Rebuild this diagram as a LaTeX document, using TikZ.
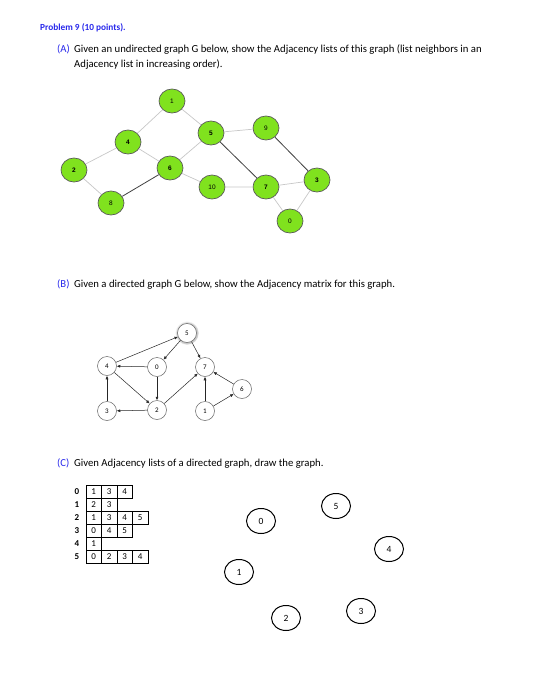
\documentclass[tikz,border=0pt]{standalone}
\usepackage{fontspec}
\setmainfont{Carlito}
\newfontfamily\labfont{Liberation Sans}
\usetikzlibrary{positioning,shapes.geometric,arrows.meta,shadows}
\definecolor{probblue}{RGB}{40,40,235}
\definecolor{nodegreen}{RGB}{128,226,30}

\begin{document}
\begin{tikzpicture}[
  x=1pt, y=-1pt,
  txt/.style={anchor=base west, inner sep=0pt, font=\fontsize{10.7}{12}\selectfont},
  gnode/.style={ellipse, draw=black!65, fill=nodegreen, line width=0.7pt, minimum width=26pt, minimum height=24pt, inner sep=0pt, font=\labfont\fontsize{6.5}{7}\selectfont},
  light/.style={draw=black!22, line width=0.7pt},
  dark/.style={draw=black!75, line width=0.8pt},
  dnode/.style={circle, draw=black!60, fill=white, line width=0.5pt, minimum size=19pt, inner sep=0pt, font=\fontsize{7}{8}\selectfont},
  arc/.style={-{Latex[length=3.5pt,width=3pt]}, draw=black!85, line width=0.5pt},
  rowlab/.style={font=\bfseries\fontsize{9}{10}\selectfont, inner sep=0pt},
  cell/.style={rectangle, draw=black, line width=0.6pt, minimum width=15.5pt, minimum height=13.1pt, inner sep=0pt, outer sep=0pt, font=\fontsize{9}{10}\selectfont},
  vnode/.style={ellipse, draw=black, line width=1pt, minimum width=29pt, minimum height=25pt, inner sep=0pt, font=\fontsize{9.5}{10}\selectfont}
]
\useasboundingbox (0,0) rectangle (544,693);

%Text
\node[txt, text=probblue, font=\bfseries\fontsize{9.3}{10}\selectfont] (title) at (40,31) {Problem 9 (10 points).};
\node[txt, text=probblue] (qa) at (57,52.7) {(A)};
\node[txt] (qa1) at (74,52.7) {Given an undirected graph G below, show the Adjacency lists of this graph (list neighbors in an};
\node[txt] (qa2) at (74,67) {Adjacency list in increasing order).};
\node[txt, text=probblue] (qb) at (57,287) {(B)};
\node[txt] (qb1) at (74,287) {Given a directed graph G below, show the Adjacency matrix for this graph.};
\node[txt, text=probblue] (qc) at (57,466) {(C)};
\node[txt] (qc1) at (74,466) {Given Adjacency lists of a directed graph, draw the graph.};

%Graph A
\node[gnode] (a1) at (172,101) {1};
\node[gnode] (a4) at (128,142) {\bfseries 4};
\node[gnode] (a5) at (211,133) {\bfseries 5};
\node[gnode] (a9) at (266,128) {9};
\node[gnode] (a2) at (74,170) {\bfseries 2};
\node[gnode] (a6) at (170,168) {\bfseries 6};
\node[gnode] (a10) at (212,187) {10};
\node[gnode] (a7) at (266,187) {\bfseries 7};
\node[gnode] (a3) at (317,180) {\bfseries 3};
\node[gnode] (a8) at (111,203) {8};
\node[gnode] (a0) at (290,221) {0};

\path[light] (a1) -- (a4) (a1) -- (a5) (a4) -- (a2) (a4) -- (a6)
  (a2) -- (a8) (a6) -- (a5) (a6) -- (a10) (a5) -- (a9)
  (a10) -- (a7) (a7) -- (a3) (a7) -- (a0) (a3) -- (a0);
\path[dark] (a8) -- (a6) (a5) -- (a7) (a9) -- (a3);

%Graph B
\node[dnode, circular drop shadow={shadow xshift=0pt, shadow yshift=0pt, shadow scale=1.25, opacity=0.45}] (b5) at (187,333) {5};
\node[dnode] (b4) at (107,366) {4};
\node[dnode] (b0) at (157,367) {0};
\node[dnode] (b7) at (205,367) {7};
\node[dnode] (b6) at (242,389) {6};
\node[dnode] (b3) at (107,411) {3};
\node[dnode] (b2) at (157,410) {2};
\node[dnode] (b1) at (205,411) {1};

\draw[arc] (b4) -- (b5);
\draw[arc] (b5) -- (b0);
\draw[arc] (b5) -- (b7);
\draw[arc] (b0) -- (b4);
\draw[arc] (b0) -- (b2);
\draw[arc] (b4) -- (b2);
\draw[arc] (b3) -- (b4);
\draw[arc] (b2) -- (b3);
\draw[arc] (b2) -- (b7);
\draw[arc] (b1) -- (b7);
\draw[arc] (b1) -- (b6);
\draw[arc] (b6) -- (b7);

%Adjacency lists
\foreach \r/\lst in {0/{1,3,4},1/{2,3},2/{1,3,4,5},3/{0,4,5},4/{1},5/{0,2,3,4}} {
  \node[rowlab] (l\r) at (77,{491.5+13.1*\r}) {\r};
  \foreach \v [count=\c] in \lst
    \node[cell] (c\r-\c) at ({78.25+15.5*\c},{491.5+13.1*\r}) {\v};
}

%Graph C
\node[vnode] (v5) at (336,506) {5};
\node[vnode] (v0) at (261,521) {0};
\node[vnode] (v4) at (389,549) {4};
\node[vnode] (v1) at (239,572) {1};
\node[vnode] (v3) at (361,611) {3};
\node[vnode] (v2) at (286,618) {2};
\end{tikzpicture}
\end{document}
